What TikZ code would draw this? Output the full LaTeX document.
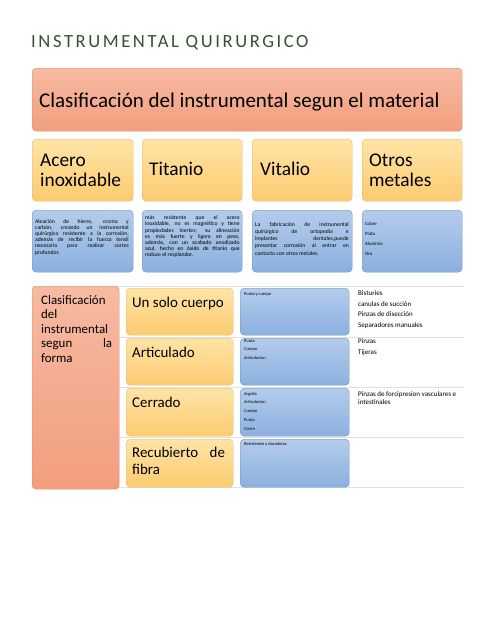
\documentclass[tikz,border=0pt]{standalone}
\usepackage{fontspec}
\setmainfont{Carlito}
\newfontfamily\titlefont[LetterSpace=14]{Carlito}
\usetikzlibrary{positioning}
\newcommand{\pxu}{1.2389pt}
\definecolor{salmonA}{RGB}{247,186,162}
\definecolor{salmonB}{RGB}{242,158,126}
\definecolor{salmonL}{RGB}{214,146,118}
\definecolor{amberA}{RGB}{254,228,166}
\definecolor{amberB}{RGB}{252,203,112}
\definecolor{amberL}{RGB}{226,184,110}
\definecolor{skyA}{RGB}{180,204,236}
\definecolor{skyB}{RGB}{139,176,222}
\definecolor{skyL}{RGB}{112,146,196}
\definecolor{verde}{RGB}{52,82,46}
\definecolor{renglonC}{RGB}{225,225,225}
\tikzset{
  dims/.style 2 args={minimum width=#1*\pxu, minimum height=#2*\pxu},
  caja/.style={rectangle, rounded corners=5pt, line width=0.5pt, anchor=north west, inner sep=0pt},
  salmon/.style={caja, draw=salmonL, top color=salmonA, bottom color=salmonB},
  amber/.style={caja, draw=amberL, top color=amberA, bottom color=amberB},
  sky/.style={caja, draw=skyL, top color=skyA, bottom color=skyB},
  titulo/.style={anchor=base west, inner sep=0pt, text=verde, font=\titlefont\fontsize{23}{24}\selectfont},
  grande/.style={inner sep=0pt, align=left, font=\fontsize{24}{25}\selectfont},
  media/.style={inner sep=0pt, anchor=north west, align=left, font=\fontsize{18.5}{21}\selectfont},
  desc/.style={inner sep=0pt, anchor=north west, align=justify, font=\fontsize{7}{7.7}\selectfont},
  mini/.style={inner sep=0pt, anchor=north west, align=left, font=\fontsize{5.5}{10.8}\selectfont},
  lista/.style={inner sep=0pt, anchor=north west, align=left, font=\fontsize{8.7}{13}\selectfont},
  renglon/.style={draw=renglonC, line width=0.6pt}
}
\begin{document}
\begin{tikzpicture}[x=\pxu, y=-\pxu]
\useasboundingbox (0,0) rectangle (494,640);
\node[titulo] (titulo) at (31,47) {INSTRUMENTAL QUIRURGICO};
% segun el material
\node[salmon, dims={430}{63}] (material) at (32,68) {};
\node[grande, anchor=base west, font=\fontsize{26}{28}\selectfont] (materialtxt) at (39,107) {Clasificación del instrumental segun el material};
\node[amber, dims={101}{62}] (acero) at (32,139) {};
\node[amber, dims={100}{62}] (titanio) at (142,139) {};
\node[amber, dims={100}{62}] (vitalio) at (252,139) {};
\node[amber, dims={100}{62}] (otros) at (362,139) {};
\node[grande, anchor=west] (acerotxt) at (40,170) {Acero\\inoxidable};
\node[grande, anchor=base west] (titaniotxt) at (149,175) {Titanio};
\node[grande, anchor=base west] (vitaliotxt) at (260,175) {Vitalio};
\node[grande, anchor=west] (otrostxt) at (369,170) {Otros\\metales};
\node[sky, dims={101}{62}] (aceroinfo) at (32,210) {};
\node[sky, dims={100}{62}] (titanioinfo) at (142,210) {};
\node[sky, dims={100}{62}] (vitalioinfo) at (252,210) {};
\node[sky, dims={100}{62}] (otrosinfo) at (362,210) {};
\node[desc, text width=116pt] (acerodesc) at (35,219) {Aleación de hierro, cromo y\linebreak carbón, creando un instrumental\linebreak quirúrgico resistente a la corrosión,\linebreak además de recibir la fuerza tensil\linebreak necesaria para realizar cortes\linebreak profundos};
\node[desc, text width=117pt] (titaniodesc) at (145,215.5) {más resistente que el acero\linebreak inoxidable, no es magnético y tiene\linebreak propiedades inertes; su alineación\linebreak es más fuerte y ligera en peso,\linebreak además, con un acabado anodizado\linebreak azul, hecho en óxido de titanio que\linebreak reduce el resplandor.};
\node[desc, text width=116pt, font=\fontsize{7}{9}\selectfont] (vitaliodesc) at (255,222) {La fabricación de instrumental\linebreak quirúrgico de ortopedia e\linebreak implantes dentales,puede\linebreak presentar corrosión al entrar en\linebreak contacto con otros metales.};
\node[mini, font=\fontsize{6}{12.4}\selectfont] (otrosdesc) at (365,222) {Cobre\\Plata\\Aluminio\\Oro};
% segun la forma
\foreach \y in {286,337,387,437,487}
  \draw[renglon] (32,\y) -- (464,\y);
\node[salmon, dims={87}{203}] (forma) at (32,286) {};
\node[media, text width=88pt, font=\fontsize{16}{18}\selectfont] (formatxt) at (41,295) {Clasificación\\del\\instrumental\\segun\hfill la\\forma};
\node[amber, dims={107}{47}] (solo) at (126,288) {};
\node[amber, dims={107}{47}] (articulado) at (126,338) {};
\node[amber, dims={107}{48}] (cerrado) at (126,388) {};
\node[amber, dims={107}{48}] (fibra) at (126,439) {};
\node[media] (solotxt) at (132,297) {Un solo cuerpo};
\node[media] (articuladotxt) at (132,347) {Articulado};
\node[media] (cerradotxt) at (132,397) {Cerrado};
\node[media, text width=115pt] (fibratxt) at (132,447) {Recubierto\hfill de\\fibra};
\node[sky, dims={109}{47}] (soloinfo) at (240,288) {};
\node[sky, dims={109}{47}] (articuladoinfo) at (240,338) {};
\node[sky, dims={109}{48}] (cerradoinfo) at (240,388) {};
\node[sky, dims={109}{48}] (fibrainfo) at (240,439) {};
\node[mini] (solopartes) at (244,292) {Punta y cuerpo};
\node[mini] (articuladopartes) at (244,339) {Punta\\Cuerpo\\Articulacion};
\node[mini] (cerradopartes) at (244,392) {Argolla\\Articulacion\\Cuerpo\\Punta\\Cierre};
\node[mini] (fibrapartes) at (244,442) {Resistentes y duraderas};
\node[lista] (sololista) at (358,291) {Bisturies\\canulas de succión\\Pinzas de disección\\Separadores manuales};
\node[lista] (articuladolista) at (358,339) {Pinzas\\Tijeras};
\node[lista, font=\fontsize{8.7}{10}\selectfont] (cerradolista) at (358,391) {Pinzas de forcipresion vasculares e\\intestinales};
\end{tikzpicture}
\end{document}
